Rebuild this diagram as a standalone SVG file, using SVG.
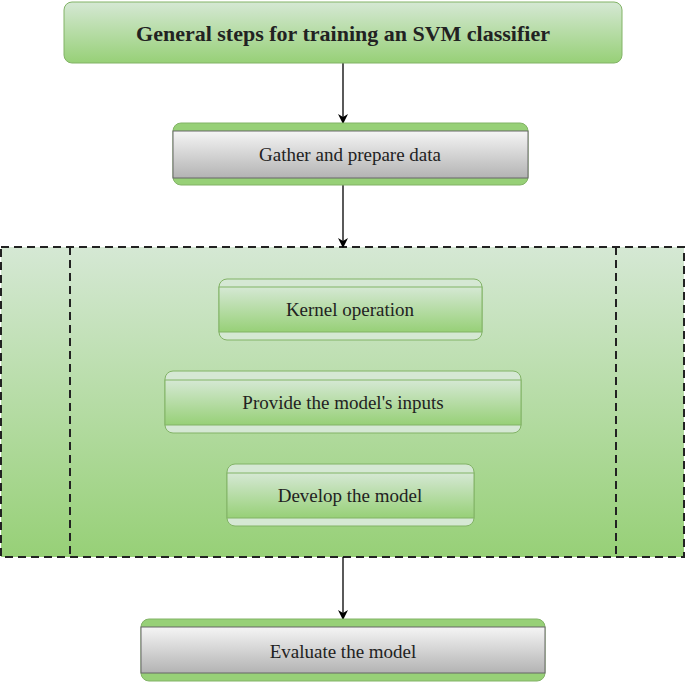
<svg xmlns="http://www.w3.org/2000/svg" width="685" height="682" viewBox="0 0 685 682">
<defs>
<linearGradient id="g" x1="0" y1="0" x2="0" y2="1"><stop offset="0" stop-color="#d5e8d4"/><stop offset="1" stop-color="#97d077"/></linearGradient>
<linearGradient id="gr" x1="0" y1="0" x2="0" y2="1"><stop offset="0" stop-color="#f5f5f5"/><stop offset="1" stop-color="#b3b3b3"/></linearGradient>
<linearGradient id="gi" x1="0" y1="0" x2="0" y2="1"><stop offset="0" stop-color="#d5e8d4"/><stop offset="1" stop-color="#97d077"/></linearGradient>
<marker id="a" markerWidth="10" markerHeight="10" refX="9" refY="5" orient="auto" markerUnits="userSpaceOnUse"><path d="M0,0 L10,5 L0,10 L3,5 z" fill="#000"/></marker>
</defs>
<style>
text{font-family:"Liberation Serif",serif;fill:#222;text-anchor:middle}
.o{stroke:#82b366;stroke-width:1}
.t{font-size:19px}
</style>
<rect width="685" height="682" fill="#fff"/>
<g id="container">
<rect x="1" y="247" width="683" height="310" fill="url(#g)" stroke="#222" stroke-width="2" stroke-dasharray="8,5"/>
<line x1="70" y1="247" x2="70" y2="557" stroke="#222" stroke-width="2" stroke-dasharray="8,5"/>
<line x1="616" y1="247" x2="616" y2="557" stroke="#222" stroke-width="2" stroke-dasharray="8,5"/>
</g>
<g id="connectors" stroke="#000" stroke-width="1.3" fill="none">
<line x1="343" y1="63" x2="343" y2="123" marker-end="url(#a)"/>
<line x1="343" y1="185" x2="343" y2="247" marker-end="url(#a)"/>
<line x1="343" y1="557" x2="343" y2="619" marker-end="url(#a)"/>
</g>
<g id="title">
<rect x="64" y="2" width="558" height="61" rx="8" fill="url(#g)" class="o"/>
<text x="343" y="41" style="font-size:22px;font-weight:bold">General steps for training an SVM classifier</text>
</g>
<g id="gather">
<rect x="173" y="123" width="355" height="62" rx="8" fill="#97d077" class="o"/>
<rect x="173" y="131" width="355" height="47" fill="url(#gr)" stroke="#666"/>
<text x="350" y="161" class="t">Gather and prepare data</text>
</g>
<g id="kernel">
<rect x="219" y="279" width="263" height="61" rx="8" fill="#d5e8d4" class="o"/>
<rect x="219" y="287" width="263" height="45" fill="url(#gi)" class="o"/>
<text x="350" y="316" class="t">Kernel operation</text>
</g>
<g id="provide">
<rect x="165" y="371" width="356" height="62" rx="8" fill="#d5e8d4" class="o"/>
<rect x="165" y="380" width="356" height="45" fill="url(#gi)" class="o"/>
<text x="343" y="409" class="t">Provide the model's inputs</text>
</g>
<g id="develop">
<rect x="227" y="464" width="247" height="62" rx="8" fill="#d5e8d4" class="o"/>
<rect x="227" y="473" width="247" height="45" fill="url(#gi)" class="o"/>
<text x="350" y="502" class="t">Develop the model</text>
</g>
<g id="evaluate">
<rect x="141" y="619" width="404" height="62" rx="8" fill="#97d077" class="o"/>
<rect x="141" y="627" width="404" height="46" fill="url(#gr)" stroke="#666"/>
<text x="343" y="658" class="t">Evaluate the model</text>
</g>
</svg>
